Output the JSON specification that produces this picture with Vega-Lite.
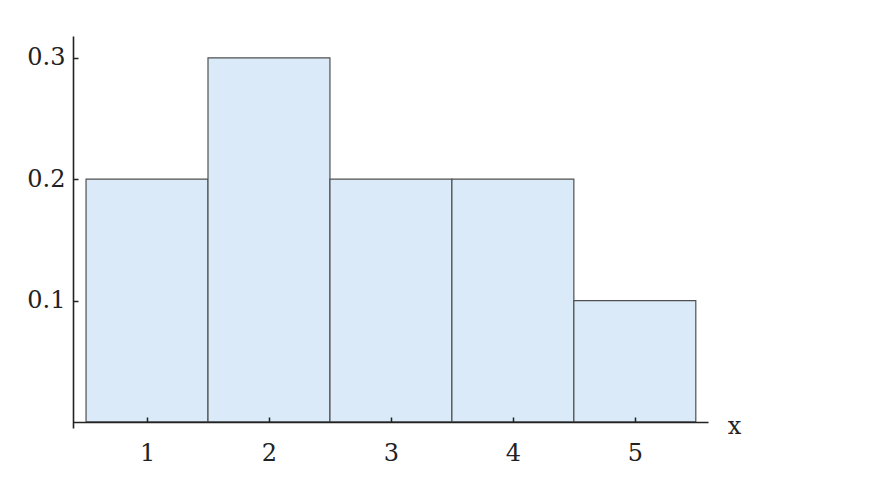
{
  "$schema": "https://vega.github.io/schema/vega-lite/v6.json",
  "width": 635,
  "height": 392,
  "autosize": "none",
  "padding": {"left": 73, "top": 36, "right": 168, "bottom": 76},
  "background": "white",
  "config": {"view": {"stroke": null}, "font": "DejaVu Serif"},
  "data": {"values": [
    {"x": 1, "x0": 0.5, "x1": 1.5, "p": 0.2},
    {"x": 2, "x0": 1.5, "x1": 2.5, "p": 0.3},
    {"x": 3, "x0": 2.5, "x1": 3.5, "p": 0.2},
    {"x": 4, "x0": 3.5, "x1": 4.5, "p": 0.2},
    {"x": 5, "x0": 4.5, "x1": 5.5, "p": 0.1}
  ]},
  "mark": {"type": "rect", "fill": "#daeaf8", "stroke": "#505050", "strokeWidth": 1.2},
  "encoding": {
    "x": {"field": "x0", "type": "quantitative",
      "scale": {"domain": [0.393, 5.6], "nice": false, "zero": false},
      "axis": {"values": [1, 2, 3, 4, 5], "grid": false, "offset": -6, "zindex": 1,
        "domainColor": "#222", "domainWidth": 1.6, "tickColor": "#222", "tickSize": -5, "tickWidth": 1.5,
        "labelPadding": 24, "labelFontSize": 24, "labelColor": "#222", "labelFont": "DejaVu Serif",
        "title": "x", "titleFontSize": 24, "titleFontWeight": "normal", "titleColor": "#222",
        "titleX": 661, "titleY": 4, "titleBaseline": "middle", "titleAlign": "center", "titleFont": "DejaVu Serif"}},
    "x2": {"field": "x1"},
    "y": {"field": "p", "type": "quantitative",
      "scale": {"domain": [-0.005, 0.318], "nice": false, "zero": false},
      "axis": {"values": [0.1, 0.2, 0.3], "grid": false, "title": null, "format": ".1f", "zindex": 1,
        "domainColor": "#222", "domainWidth": 1.6, "tickColor": "#222", "tickSize": -5, "tickWidth": 1.5,
        "labelPadding": 13, "labelFontSize": 24, "labelColor": "#222", "labelFont": "DejaVu Serif"}},
    "y2": {"datum": 0}
  }
}
